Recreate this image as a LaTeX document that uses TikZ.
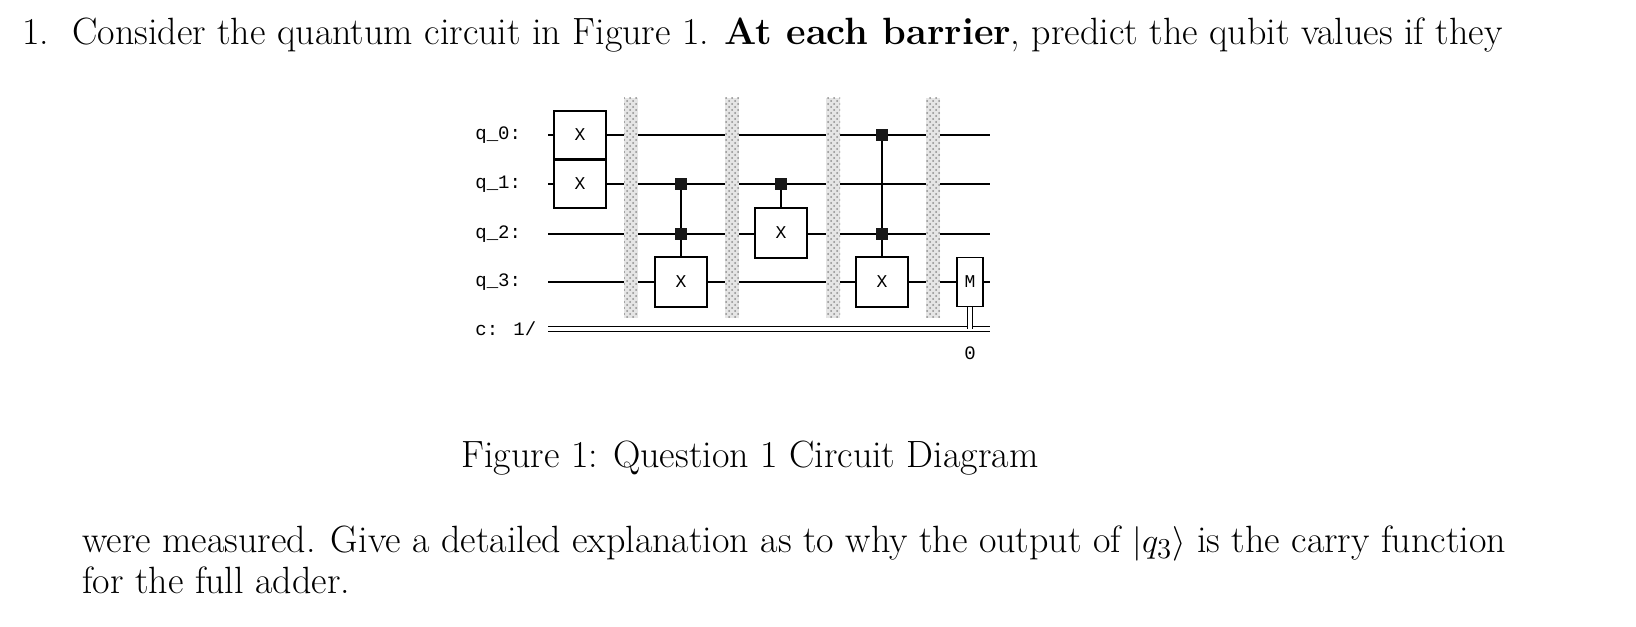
\documentclass[tikz,border=0pt]{standalone}
\usepackage{fontspec}
\newfontfamily\cmono{Liberation Mono}
\usetikzlibrary{patterns}
\begin{document}
\begin{tikzpicture}[x=0.5pt,y=-0.5pt,
  txt/.style={anchor=base west,inner sep=0pt,font=\fontsize{19}{22}\selectfont},
  lbl/.style={anchor=west,inner sep=0pt,font=\cmono\fontsize{9.5}{11}\selectfont},
  gate/.style={draw,fill=white,line width=0.6pt,font=\cmono\fontsize{9}{10}\selectfont,inner sep=0pt},
  ctrl/.style={fill=black!90,minimum size=6pt,inner sep=0pt},
  wire/.style={line width=0.6pt},
  barr/.style={pattern=crosshatch dots,pattern color=gray!90,draw=none}]
\useasboundingbox (0,0) rectangle (1636,626);
\node[txt] (l1) at (22,45) {1.\ \ Consider the quantum circuit in Figure 1. \textbf{At each barrier}, predict the qubit values if they};
\node[txt] (cap) at (461,467) {Figure 1: Question 1 Circuit Diagram};
\node[txt] (l2) at (82,552) {were measured. Give a detailed explanation as to why the output of $|q_3\rangle$ is the carry function};
\node[txt] (l3) at (82,593) {for the full adder.};
\foreach \i/\y in {0/135,1/184,2/234,3/282}{
  \node[lbl] (lab\i) at (475,\y) {q\_\i:};
  \coordinate (ws\i) at (548,\y);
  \coordinate (we\i) at (990,\y);
  \draw[wire] (ws\i) -- (we\i);
}
\node[lbl] (labc) at (475,329) {c: 1/};
\coordinate (cs) at (548,329); \coordinate (ce) at (990,329);
\draw[wire,double distance=2pt,line width=0.5pt] (cs) -- (ce);
\foreach \x in {631,732,833,933}{
  \fill[gray!20] (\x-7,98) rectangle (\x+7,318);
  \fill[barr] (\x-7,98) rectangle (\x+7,318);
}
\node[gate,minimum width=26pt,minimum height=24pt] (x0) at (580,135) {X};
\node[gate,minimum width=26pt,minimum height=24pt] (x1) at (580,184) {X};
\node[ctrl] (c11) at (681,184) {};
\node[ctrl] (c12) at (681,234) {};
\node[gate,minimum width=26pt,minimum height=25pt] (t1) at (681,282) {X};
\draw[wire] (c11) -- (c12); \draw[wire] (c12) -- (t1);
\node[ctrl] (c21) at (781,184) {};
\node[gate,minimum width=26pt,minimum height=25pt] (t2) at (781,233) {X};
\draw[wire] (c21) -- (t2);
\node[ctrl] (c31) at (882,135) {};
\node[ctrl] (c32) at (882,234) {};
\node[gate,minimum width=26pt,minimum height=25pt] (t3) at (882,282) {X};
\draw[wire] (c31) -- (c32); \draw[wire] (c32) -- (t3);
\node[gate,minimum width=13pt,minimum height=24.5pt] (m) at (970,282) {M};
\coordinate (mc) at (970,329);
\draw[line width=0.5pt,double distance=2pt] (m.south) -- (mc);
\node[lbl,anchor=center] (zero) at (970,353) {0};
\end{tikzpicture}
\end{document}
